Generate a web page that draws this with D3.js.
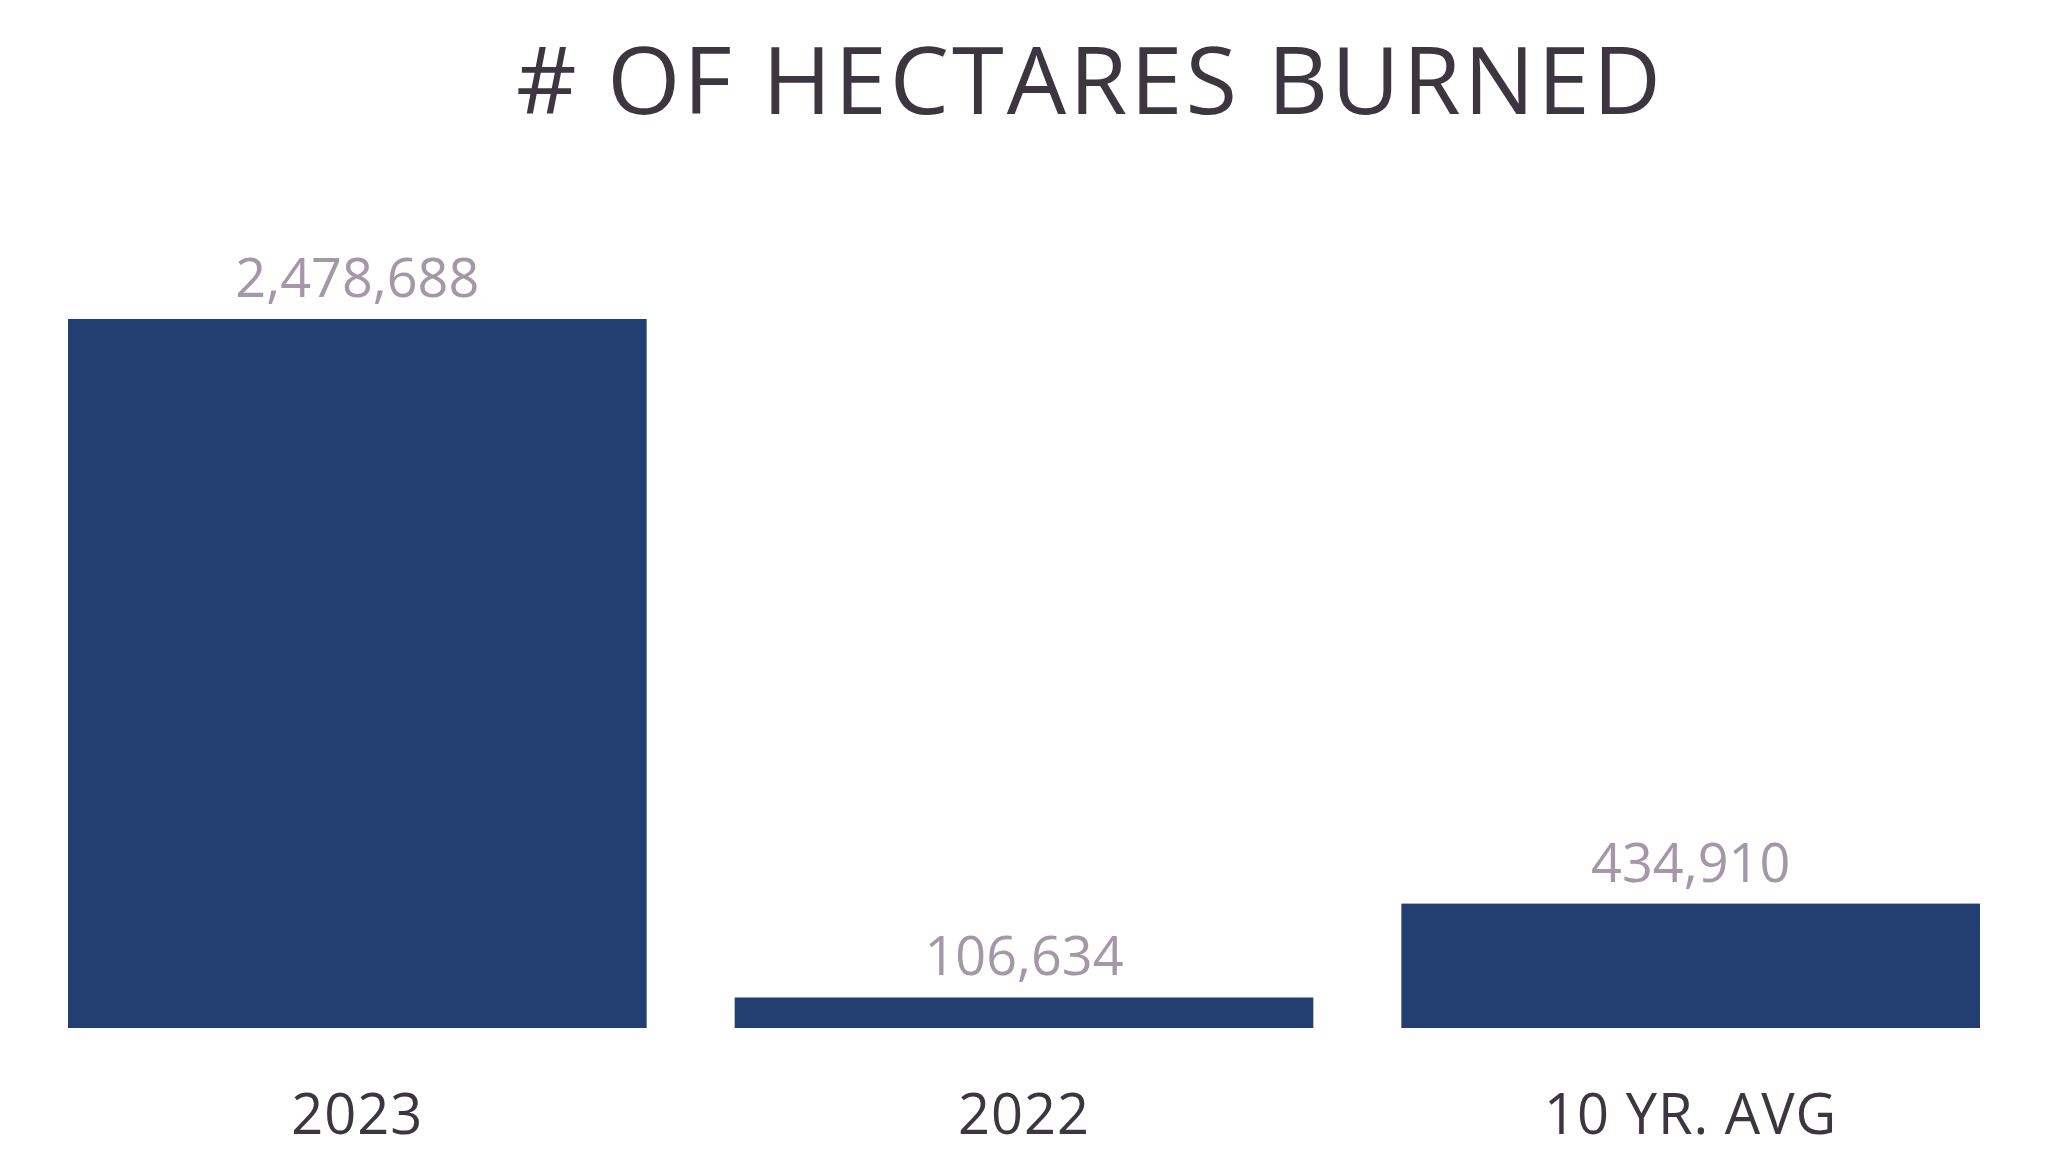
<!DOCTYPE html>
<html>
<head>
<meta charset="utf-8">
<script src="https://cdn.jsdelivr.net/npm/d3@7"></script>
<style>
  body { margin: 0; background: #fff; }
  text { font-family: "Open Sans", "Noto Sans", sans-serif; }
</style>
</head>
<body>
<svg id="chart" width="2048" height="1152"></svg>
<script>
// valeurs
const categories = ["2023", "2022", "10 YR. AVG"];
const hectares = [2478688, 106634, 434910];
const valueLabels = ["2,478,688", "106,634", "434,910"];

const svg = d3.select("#chart");
const baseline = 1028;

let x = d3.scaleBand()
    .domain(categories)
    .range([68, 1980])
    .paddingInner(0.132)
    .paddingOuter(0);

let y = d3.scaleLinear([0, 2478688], [baseline, 319]);

svg.append("text")
    .attr("x", 1090)
    .attr("y", 114)
    .attr("text-anchor", "middle")
    .attr("font-size", 94)
    .attr("letter-spacing", 3)
    .attr("fill", "#3d3540")
    .text("# OF HECTARES BURNED");

svg.append("g")
    .selectAll("rect")
    .data(hectares)
    .join("rect")
    .attr("x", (d, i) => x(categories[i]))
    .attr("y", d => y(d))
    .attr("width", x.bandwidth())
    .attr("height", d => baseline - y(d))
    .attr("fill", "#233f72");

svg.append("g")
    .selectAll("text")
    .data(hectares)
    .join("text")
    .attr("x", (d, i) => x(categories[i]) + x.bandwidth() / 2)
    .attr("y", d => y(d) - 22)
    .attr("text-anchor", "middle")
    .attr("font-size", 54)
    .attr("fill", "#a597a8")
    .text((d, i) => valueLabels[i]);

// axe du bas sans trait
let xAxis = svg.append("g")
    .attr("transform", `translate(0,${baseline})`)
    .call(d3.axisBottom(x).tickSize(0).tickPadding(66));
xAxis.select(".domain").remove();
xAxis.selectAll("text")
    .attr("font-family", "'Open Sans', 'Noto Sans', sans-serif")
    .attr("font-size", 56)
    .attr("letter-spacing", 1)
    .attr("fill", "#3d3540");
</script>
</body>
</html>
